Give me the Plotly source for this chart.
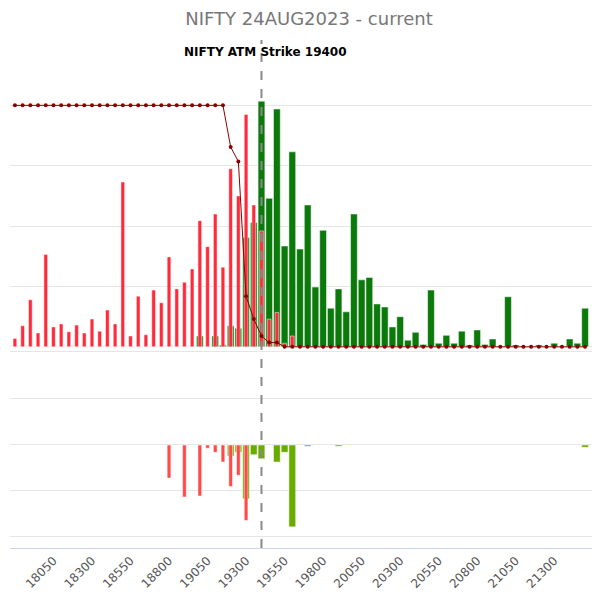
import plotly.graph_objects as go

strikes = list(range(17800, 21550, 50))
put_oi = [0.14,0.35,0.78,0.23,1.53,0.33,0.38,0.25,0.36,0.23,0.46,0.26,0.61,0.38,2.73,0.18,0.84,0.20,0.94,0.73,
          1.49,0.96,1.07,1.29,2.09,1.66,2.20,1.32,2.95,2.50,3.85,2.35,1.92,0.46,0.57,0.06,0.18] + [0.01]*38
call_oi = [0]*24 + [0.18,0,0.18,0.03,0.35,0.31,1.81,2.06,4.07,2.46,3.94,1.67,3.23,1.62,2.35,0.99,1.93,0.64,0.96,0.58,
           2.20,1.11,1.15,0.71,0.66,0.33,0.50,0.11,0.24,0.04,0.94,0.06,0.19,0.06,0.26,0.03,0.28,0.04,0.13,0.01,
           0.83,0.03,0.01,0.01,0.03,0.01,0.06,0.01,0.13,0.06,0.64]
line_vals = [4.0]*28 + [3.31,3.07,0.84,0.46,0.18,0.07,0.07] + [0.0]*40
put_chg = {18800:-0.72,18900:-1.13,19000:-1.11,19050:-0.07,19100:-0.16,19150:-0.37,19200:-0.90,19250:-0.66,19300:-1.64}
call_chg = {19200:-0.24,19250:-0.16,19300:-1.17,19350:-0.21,19400:-0.30,19500:-0.37,19550:-0.16,19600:-1.78,19700:-0.03,19900:-0.03,21500:-0.05}
atm = 19400
tick_vals = list(range(18050, 21550, 250))
tick_text = [str(v) for v in tick_vals]

fig = go.Figure()
fig.add_bar(x=strikes, y=call_oi, width=44, marker=dict(color="#0b7a0b", line=dict(color="white", width=0.5)),
            xaxis="x2", yaxis="y2", name="Call OI")
fig.add_bar(x=strikes, y=put_oi, width=24, marker=dict(color="#ff2a3a", line=dict(color="white", width=0.5)),
            xaxis="x2", yaxis="y2", name="Put OI")
fig.add_scatter(x=strikes, y=line_vals, mode="lines+markers", line=dict(color="#8b0000", width=1),
                marker=dict(color="#8b0000", size=4), xaxis="x2", yaxis="y2", name="line")
fig.add_bar(x=list(call_chg.keys()), y=list(call_chg.values()), width=44, marker=dict(color="#6aab00", line=dict(color="white", width=0.5)),
            xaxis="x", yaxis="y", name="Call chg")
fig.add_bar(x=list(put_chg.keys()), y=list(put_chg.values()), width=24, marker=dict(color="#ff4a4a", line=dict(color="white", width=0.5)),
            xaxis="x", yaxis="y", name="Put chg")

fig.add_shape(type="line", x0=atm, x1=atm, xref="x", yref="paper", y0=0, y1=1.01,
              line=dict(color="#8a8a8a", width=2, dash="dash"))
fig.add_annotation(x=atm, xref="x", xshift=4, y=1.0, yref="paper", yanchor="middle", yshift=-7, text="<b>NIFTY ATM Strike 19400</b>",
                   showarrow=False, font=dict(size=12, color="black", family="DejaVu Sans"), xanchor="center")

xr = [17768, 21545]
fig.update_layout(
    width=602, height=602, barmode="overlay", showlegend=False,
    plot_bgcolor="white", paper_bgcolor="white",
    margin=dict(l=2, r=18, t=37, b=62, autoexpand=False),
    title=dict(text="NIFTY 24AUG2023 - current", x=0.5, xanchor="center", y=0.992, yanchor="top", font=dict(size=18, color="#777777", family="DejaVu Sans")),
    xaxis=dict(range=xr, tickvals=tick_vals, ticktext=tick_text, tickangle=-45, showgrid=False, showline=True, linecolor="#ccd6eb",
               ticks="", tickfont=dict(size=12, color="#555555", family="DejaVu Sans"), zeroline=False, automargin=False),
    xaxis2=dict(range=xr, matches="x", anchor="y2", showticklabels=False, showgrid=False, showline=True, linecolor="#e6e6e6", zeroline=False),
    yaxis=dict(domain=[0, 0.384], range=[-2.24, 1.96], dtick=1, showticklabels=False, gridcolor="#e6e6e6", zeroline=False, automargin=False),
    yaxis2=dict(domain=[0.392, 1], range=[-0.066, 5.0], dtick=1, showticklabels=False, gridcolor="#e6e6e6", zeroline=False, anchor="x2", automargin=False),
)
fig.write_html("out.html")
